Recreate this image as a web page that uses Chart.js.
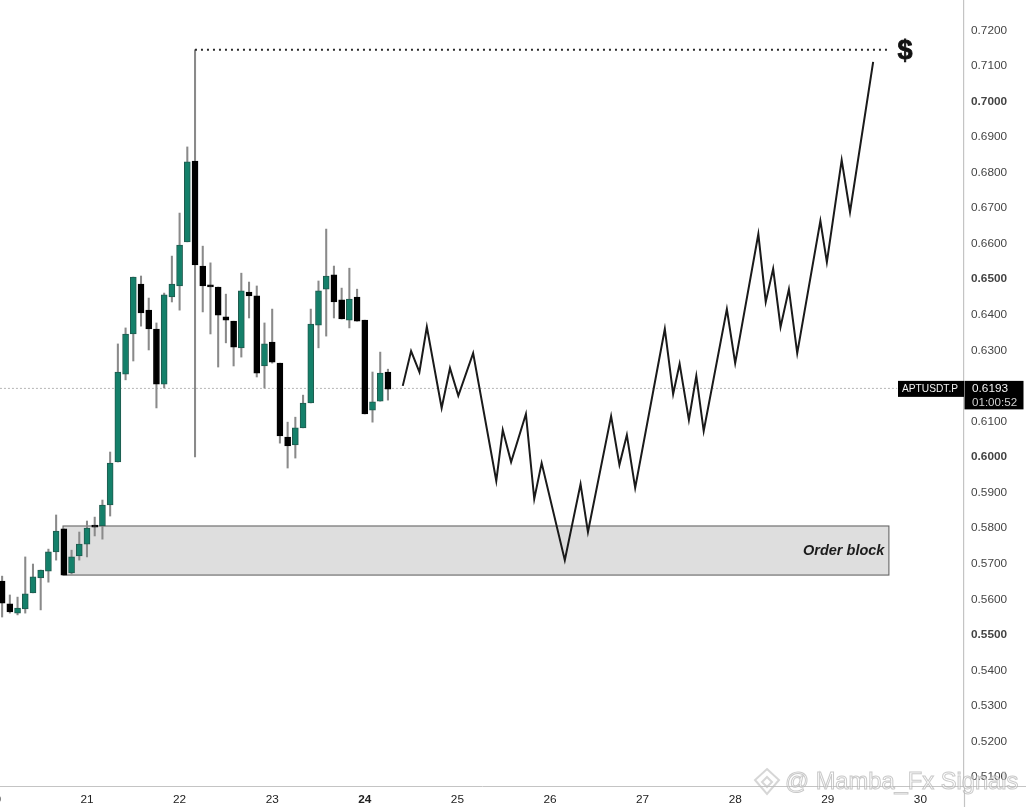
<!DOCTYPE html>
<html><head><meta charset="utf-8">
<style>html,body{margin:0;padding:0;background:#fff}canvas{display:block}</style>
<script src="https://cdn.jsdelivr.net/npm/chart.js@4/dist/chart.umd.min.js"></script>
</head><body><div style="width:1026px;height:807px;position:relative"><canvas id="c"></canvas></div>
<script>
const candleHours=[2,4,6,8,10,12,14,16,18,20,22,24,26,28,30,32,34,36,38,40,42,44,46,48,50,52,54,56,58,60,62,64,66,68,70,72,74,76,78,80,82,84,86,88,90,92,94,96,98,100,102];
const opens=[.5651,.5587,.5561,.5573,.5618,.5660,.5679,.5733,.5798,.5674,.5722,.5755,.5806,.5806,.5865,.5986,.6233,.6346,.6486,.6413,.6360,.6205,.6450,.6481,.6605,.6832,.6537,.6484,.6478,.6394,.6382,.6307,.6464,.6453,.6256,.6323,.6264,.6056,.6034,.6082,.6152,.6371,.6472,.6512,.6442,.6385,.6450,.6385,.6132,.6157,.6239];
const closes=[.5589,.5564,.5575,.5615,.5663,.5682,.5733,.5792,.5668,.5719,.5755,.5800,.5803,.5865,.5983,.6239,.6346,.6506,.6405,.6360,.6205,.6456,.6486,.6596,.6830,.6540,.6481,.6478,.6399,.6385,.6309,.6467,.6453,.6236,.6318,.6267,.6059,.6031,.6082,.6152,.6374,.6467,.6509,.6436,.6388,.6444,.6382,.6121,.6155,.6236,.6191];
const highs=[.5665,.5612,.5606,.5719,.5699,.5682,.5741,.5837,.5798,.5738,.5789,.5820,.5831,.5879,.6014,.6318,.6363,.6506,.6509,.6447,.6377,.6461,.6565,.6686,.6872,.7145,.6593,.6546,.6478,.6458,.6382,.6517,.6492,.6481,.6377,.6416,.6264,.6098,.6112,.6174,.6416,.6495,.6641,.6537,.6475,.6531,.6472,.6385,.6239,.6295,.6247];
const lows=[.5550,.5561,.5556,.5561,.5618,.5570,.5648,.5710,.5668,.5671,.5710,.5719,.5778,.5769,.5834,.5986,.6217,.6270,.6368,.6301,.6138,.6194,.6436,.6413,.6605,.6000,.6408,.6346,.6253,.6321,.6256,.6281,.6391,.6225,.6194,.6264,.6039,.5969,.5997,.6082,.6152,.6307,.6340,.6391,.6388,.6363,.6382,.6121,.6098,.6157,.6160];
const pathDays=[24.41,24.50,24.59,24.67,24.83,24.92,25.01,25.17,25.42,25.49,25.58,25.74,25.83,25.91,26.16,26.33,26.41,26.66,26.75,26.83,26.92,27.24,27.33,27.40,27.50,27.58,27.66,27.91,28.00,28.25,28.33,28.41,28.49,28.58,28.67,28.92,28.99,29.15,29.24,29.49];
const pathPrices=[.6200,.6298,.6239,.6366,.6138,.6250,.6172,.6292,.5933,.6076,.5986,.6121,.5882,.5983,.5710,.5924,.5789,.6115,.5978,.6062,.5913,.6360,.6177,.6262,.6104,.6228,.6073,.6416,.6264,.6627,.6436,.6529,.6366,.6472,.6292,.6664,.6548,.6835,.6689,.7111];
const xTickValues=[20,21,22,23,24,25,26,27,28,29,30];
const yTickValues=[.51,.52,.53,.54,.55,.56,.57,.58,.59,.60,.61,.62,.63,.64,.65,.66,.67,.68,.69,.70,.71,.72];
const boldY=[.55,.60,.65,.70];
const boldX=[24];
const lastPrice=.6193, targetPrice=.7145, targetStart=22.166, targetEnd=29.66;
const blockTop=.5806, blockBottom=.5668, blockStart=20.741, blockEnd=29.66;
const symbol="APTUSDT.P", lastLabel="0.6193", countdown="01:00:52", blockLabel="Order block", targetLabel="$", watermark="@ Mamba_Fx Signals";

const FONT='"Liberation Sans",Arial,sans-serif';
const GREEN='#14806a', GREEN_B='#1f5a4e', BLACK='#000000';
const days=candleHours.map(h=>20+h/24);
const isUp=closes.map((c,i)=>c>=opens[i]);
const near=(a,v)=>a.some(t=>Math.abs(t-v)<1e-6);
const noPad=s=>{s.paddingLeft=s.paddingRight=s.paddingTop=s.paddingBottom=0;};

const overlay={id:'overlay',
 beforeDatasetsDraw(ch){
  const {ctx,scales:{x,y}}=ch;
  const l=x.getPixelForValue(blockStart),r=x.getPixelForValue(blockEnd),t=y.getPixelForValue(blockTop),b=y.getPixelForValue(blockBottom);
  ctx.save();ctx.fillStyle='#dedede';ctx.fillRect(l,t,r-l,b-t);
  ctx.strokeStyle='#666';ctx.lineWidth=1.1;ctx.strokeRect(l,t,r-l,b-t);
  ctx.restore();
 },
 afterDraw(ch){
  const {ctx,scales:{x,y},chartArea:ca}=ch;
  ctx.save();
  ctx.strokeStyle='#c4c4c4';ctx.lineWidth=1.2;
  ctx.beginPath();ctx.moveTo(ca.right+.5,ca.bottom);ctx.lineTo(ca.right+.5,807);
  ctx.moveTo(ca.right,ca.bottom+.5);ctx.lineTo(1026,ca.bottom+.5);ctx.stroke();
  ctx.fillStyle='#1c1c1c';ctx.font='italic bold 14.5px '+FONT;ctx.textAlign='right';ctx.textBaseline='middle';
  ctx.fillText(blockLabel,x.getPixelForValue(blockEnd)-4.5,y.getPixelForValue((blockTop+blockBottom)/2)+.5);
  ctx.fillStyle='#111';ctx.font='bold 27px '+FONT;ctx.textAlign='center';
  ctx.fillText(targetLabel,905,y.getPixelForValue(targetPrice)+2);
  ctx.lineWidth=.8;ctx.strokeStyle='#111';ctx.strokeText(targetLabel,905,y.getPixelForValue(targetPrice)+2);
  const py=y.getPixelForValue(lastPrice);
  ctx.fillStyle='#000';
  ctx.fillRect(898,py-7.5,ca.right-898,16);
  ctx.fillRect(ca.right+.5,py-7.5,59,28.5);
  ctx.fillStyle='#f2f2f2';ctx.font='10.2px '+FONT;ctx.textAlign='left';
  ctx.fillText(symbol,902,py+.5);
  ctx.font='11.8px '+FONT;
  ctx.fillText(lastLabel,972,py+.5);
  ctx.font='11.6px '+FONT;ctx.fillStyle='#cfcfcf';
  ctx.fillText(countdown,972,py+14);
  ctx.globalAlpha=.62;
  ctx.font='23.7px '+FONT;ctx.textAlign='left';ctx.textBaseline='middle';
  ctx.lineWidth=1;ctx.strokeStyle='#a8a8a8';ctx.fillStyle='rgba(255,255,255,.75)';
  ctx.fillText(watermark,785,782);ctx.strokeText(watermark,785,782);
  const ix=767,iy=782;
  ctx.lineWidth=2;ctx.strokeStyle='#bdbdbd';
  ctx.beginPath();ctx.moveTo(ix,iy-13);ctx.lineTo(ix+12,iy-2);ctx.lineTo(ix,iy+12);ctx.lineTo(ix-12,iy-2);ctx.closePath();ctx.stroke();
  ctx.beginPath();ctx.moveTo(ix,iy-5);ctx.lineTo(ix+5,iy);ctx.lineTo(ix,iy+5);ctx.lineTo(ix-5,iy);ctx.closePath();ctx.stroke();
  ctx.restore();
 }};

new Chart(document.getElementById('c'),{
 type:'bar',
 plugins:[overlay],
 data:{datasets:[
  {type:'line',label:'Projection',data:pathDays.map((d,i)=>({x:d,y:pathPrices[i]})),borderColor:'#1a1a1a',borderWidth:2,pointRadius:0,tension:0,order:1},
  {type:'line',label:'Target',data:[{x:targetStart,y:targetPrice},{x:targetEnd,y:targetPrice}],borderColor:'#2a2a2a',borderWidth:2,borderDash:[2,4],pointRadius:0,order:1},
  {type:'line',label:'Last price',data:[{x:20.06,y:lastPrice},{x:29.75,y:lastPrice}],borderColor:'#b5b5b5',borderWidth:1,borderDash:[2,2],pointRadius:0,order:4},
  {label:'Bodies',grouped:false,order:2,barThickness:6,minBarLength:2,borderWidth:1,borderSkipped:false,
   data:days.map((d,i)=>({x:d,y:[opens[i],closes[i]]})),
   backgroundColor:isUp.map(u=>u?GREEN:BLACK),borderColor:isUp.map(u=>u?GREEN_B:BLACK)},
  {label:'Wicks',grouped:false,order:3,barThickness:1.4,borderWidth:0,
   data:days.map((d,i)=>({x:d,y:[lows[i],highs[i]]})),backgroundColor:'#8a8a8a'}
 ]},
 options:{
  responsive:true,maintainAspectRatio:false,animation:false,devicePixelRatio:1,
  layout:{padding:0,autoPadding:false},
  plugins:{legend:{display:false},tooltip:{enabled:false}},
  scales:{
   x:{type:'linear',offset:false,min:20.0605,max:30.471,
    afterBuildTicks:s=>{s.ticks=xTickValues.map(v=>({value:v}));},
    afterFit:s=>{s.height=21;noPad(s);},
    grid:{display:false,drawTicks:false},border:{color:'#c4c4c4',width:1},
    ticks:{autoSkip:false,maxRotation:0,padding:7,color:'#222',
     callback:v=>String(v),
     font:c=>({family:FONT,size:11.8,weight:c.tick&&near(boldX,c.tick.value)?'bold':'normal'})}},
   y:{type:'linear',position:'right',min:.50748,max:.72852,
    afterBuildTicks:s=>{s.ticks=yTickValues.map(v=>({value:v}));},
    afterFit:s=>{s.width=62;noPad(s);},
    grid:{display:false,drawTicks:false},border:{color:'#c4c4c4',width:1.2},
    ticks:{autoSkip:false,padding:7,color:'#444',
     callback:v=>Number(v).toFixed(4),
     font:c=>({family:FONT,size:11.8,weight:c.tick&&near(boldY,c.tick.value)?'bold':'normal'})}}
  }
 }
});
</script></body></html>
